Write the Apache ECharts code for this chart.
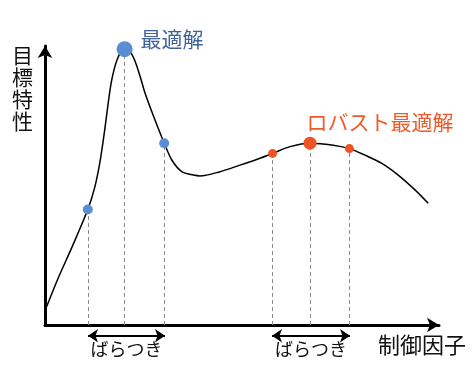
<!DOCTYPE html>
<html><head><meta charset="utf-8">
<script src="https://cdn.jsdelivr.net/npm/echarts@6/dist/echarts.min.js"></script>
<style>html,body{margin:0;padding:0;background:#fff}#c{width:474px;height:374px}</style>
</head><body><div id="c"></div>
<script>
// Curve of the objective characteristic vs control factor
const curveX = [0.4, 3.1, 6.8, 10.7, 12.4, 13.6, 14.5, 15.25, 15.9, 16.5, 17.25, 18, 18.9, 19.9, 20.9, 21.75, 22.5, 23.75, 25, 27.5, 29.8, 31.7, 34.2, 37.1, 38.75, 43.75, 48.75, 52.9, 56.9, 61.25, 66.25, 71.7, 76.1, 80, 84.2, 88.3, 92.5, 95.8];
const curveY = [6.4, 15.8, 27.5, 40.5, 48.1, 56.1, 64.2, 71.9, 78.9, 84.6, 89.5, 93.0, 95.6, 96.8, 96.5, 94.9, 92.6, 87.4, 81.4, 71.9, 63.8, 57.9, 53.8, 52.6, 52.3, 53.8, 56.1, 58.1, 60.2, 62.6, 63.8, 63.2, 61.9, 59.6, 56.7, 52.6, 47.4, 42.7];
// Optimum (blue) points: spread around the sharp peak
const optX = [10.7, 19.9, 29.8];
const optY = [40.5, 96.8, 63.8];
const optSize = [10, 16, 10];
// Robust optimum (orange) points
const robX = [56.9, 66.25, 76.1];
const robY = [60.2, 63.8, 61.9];
const robSize = [9, 13, 9];
// Spread ranges (ばらつき)
const spreadRanges = [[10.75, 30], [56.75, 76.25]];
const spreadLabel = 'ばらつき';
const xName = '制御因子';
const yName = '目標特性';
const optLabel = '最適解';
const robLabel = 'ロバスト最適解';

const FONT = '"Noto Sans CJK JP", "Noto Sans", sans-serif';
const BLUE = '#5a8ed2', ORANGE = '#ef5326';

const curve = curveX.map((x, i) => [x, curveY[i]]);
const dashData = optX.map((x, i) => [x, optY[i]]).concat(robX.map((x, i) => [x, robY[i]]))
  .map(p => [{coord: [p[0], 0]}, {coord: [p[0], p[1]]}]);

const chart = echarts.init(document.getElementById('c'), null, {renderer: 'canvas'});
chart.setOption({
  animation: false,
  grid: [
    {left: 45, right: 35, top: 46, bottom: 49},
    {left: 45, right: 35, top: 325, bottom: 0}
  ],
  xAxis: [
    {type: 'value', gridIndex: 0, min: 0, max: 98.5,
     axisLine: {show: true, onZero: false, symbol: ['none', 'arrow'], symbolSize: [11, 12], lineStyle: {color: '#000', width: 3}},
     axisTick: {show: false}, axisLabel: {show: false}, splitLine: {show: false}},
    {type: 'value', gridIndex: 1, min: 0, max: 98.5, show: false}
  ],
  yAxis: [
    {type: 'value', gridIndex: 0, min: 0, max: 97.9,
     axisLine: {show: true, onZero: false, symbol: ['none', 'arrow'], symbolSize: [11, 12], lineStyle: {color: '#000', width: 3}},
     axisTick: {show: false}, axisLabel: {show: false}, splitLine: {show: false}},
    {type: 'value', gridIndex: 1, min: 0, max: 10, show: false}
  ],
  series: [
    {type: 'line', xAxisIndex: 0, yAxisIndex: 0, data: curve, smooth: 0.3,
     showSymbol: false, clip: false, lineStyle: {color: '#000', width: 1.5}, z: 3,
     markLine: {silent: true, symbol: ['none', 'none'], animation: false,
       lineStyle: {color: '#8c8c8c', width: 1, type: [4, 3]}, label: {show: false}, data: dashData}},
    {type: 'scatter', xAxisIndex: 0, yAxisIndex: 0, clip: false, z: 5,
     data: optX.map((x, i) => ({value: [x, optY[i]], symbolSize: optSize[i],
       label: i === 1 ? {show: true, formatter: optLabel, position: 'right', offset: [3, -10],
         color: '#41629a', fontSize: 21, fontFamily: FONT} : {show: false}})),
     itemStyle: {color: BLUE, opacity: 1}},
    {type: 'scatter', xAxisIndex: 0, yAxisIndex: 0, clip: false, z: 5,
     data: robX.map((x, i) => ({value: [x, robY[i]], symbolSize: robSize[i],
       label: i === 1 ? {show: true, formatter: robLabel, position: 'right', offset: [-15, -21],
         color: '#ee5a2b', fontSize: 21, fontFamily: FONT} : {show: false}})),
     itemStyle: {color: ORANGE, opacity: 1}},
    {type: 'line', xAxisIndex: 1, yAxisIndex: 1, data: [], clip: false,
     markLine: {silent: true, symbol: ['arrow', 'arrow'], symbolSize: [10, 10], animation: false,
       lineStyle: {color: '#000', width: 2, type: 'solid'},
       label: {show: true, position: 'insideMiddleBottom', formatter: spreadLabel, color: '#111',
         fontSize: 18, fontFamily: FONT, distance: 4},
       data: spreadRanges.map(r => [{coord: [r[0], 7.8]}, {coord: [r[1], 7.8]}])}}
  ],
  graphic: [
    {type: 'text', left: 378, top: 334, style: {text: xName, fontSize: 22, fontFamily: FONT, fill: '#111'}},
    {type: 'text', left: 12, top: 44, style: {text: yName.split('').join('\n'), fontSize: 21, lineHeight: 22, fontFamily: FONT, fill: '#111'}}
  ]
});
</script></body></html>
